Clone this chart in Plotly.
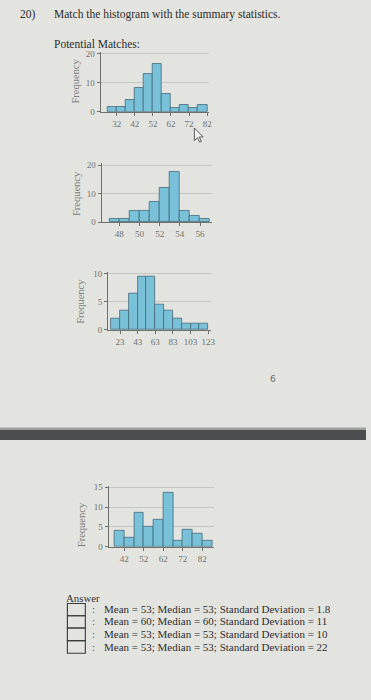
import plotly.graph_objects as go

W, H = 371, 700

# ---- histogram data (bin left edges, bin width, frequencies) ----
h1_edges = [27, 32, 37, 42, 47, 52, 57, 62, 67, 72, 77]
h1_width = 5
h1_counts = [1.5, 1.5, 4, 8, 13, 16.5, 6, 1.2, 2.5, 1.2, 2.5]
h1_xticks = [32, 42, 52, 62, 72, 82]
h1_yticks = [0, 10, 20]

h2_edges = [47, 48, 49, 50, 51, 52, 53, 54, 55, 56]
h2_width = 1
h2_counts = [1, 1, 4, 4, 7, 12, 17.5, 4, 2.2, 1.2]
h2_xticks = [48, 50, 52, 54, 56]
h2_yticks = [0, 10, 20]

h3_edges = [13, 23, 33, 43, 53, 63, 73, 83, 93, 103, 113]
h3_width = 10
h3_counts = [2, 3.5, 6.5, 9.5, 9.5, 4.5, 3.5, 2, 1.2, 1.2, 1.2]
h3_xticks = [23, 43, 63, 83, 103, 123]
h3_yticks = [0, 5, 10]

h4_edges = [37, 42, 47, 52, 57, 62, 67, 72, 77, 82]
h4_width = 5
h4_counts = [4, 2.3, 8.7, 5.1, 6.9, 13.7, 1.5, 4.4, 3.2, 1.4]
h4_xticks = [42, 52, 62, 72, 82]
h4_yticks = [0, 5, 10, 15]

answer_lines = [
    "Mean = 53; Median = 53; Standard Deviation = 1.8",
    "Mean = 60; Median = 60; Standard Deviation = 11",
    "Mean = 53; Median = 53; Standard Deviation = 10",
    "Mean = 53; Median = 53; Standard Deviation = 22",
]

# ---- styling ----
BG = "#e3e4e0"
BAR_FILL = "#79c1d9"
BAR_EDGE = "#44697a"
AXIS = "#6d706f"
GRID = "#c3c6c2"
TICK_TXT = "#6f716f"
SERIF = "Liberation Serif"


def fx(px):
    return px / W


def fy(py):
    return 1 - py / H


# panel boxes in pixels: left, right, top, bottom
panels = [
    dict(edges=h1_edges, w=h1_width, counts=h1_counts, xt=h1_xticks, yt=h1_yticks,
         xr=[23.1, 83.1], yr=[0, 20.5], box=(102, 212, 49.5, 110), ttl=(76.5, 79)),
    dict(edges=h2_edges, w=h2_width, counts=h2_counts, xt=h2_xticks, yt=h2_yticks,
         xr=[46.24, 57.2], yr=[0, 20.8], box=(103, 215, 161.7, 221.7), ttl=(78.3, 193)),
    dict(edges=h3_edges, w=h3_width, counts=h3_counts, xt=h3_xticks, yt=h3_yticks,
         xr=[9.3, 125.8], yr=[0, 10.4], box=(109.5, 213.5, 271.7, 330.7), ttl=(81.7, 301.7)),
    dict(edges=h4_edges, w=h4_width, counts=h4_counts, xt=h4_xticks, yt=h4_yticks,
         xr=[33.9, 87.9], yr=[0, 15.4], box=(110, 216.7, 488.3, 550), ttl=(83.3, 528)),
]

fig = go.Figure()
layout = {}
annotations = []
shapes = []

for i, p in enumerate(panels, start=1):
    sfx = "" if i == 1 else str(i)
    centers = [e + p["w"] / 2 for e in p["edges"]]
    fig.add_trace(go.Bar(
        x=centers, y=p["counts"], width=[p["w"]] * len(centers),
        marker=dict(color=BAR_FILL, line=dict(color=BAR_EDGE, width=0.8)),
        xaxis="x" + sfx, yaxis="y" + sfx, showlegend=False, hoverinfo="skip",
    ))
    l, r, t, b = p["box"]
    layout["xaxis" + sfx] = dict(
        domain=[fx(l), fx(r)], range=p["xr"], anchor="y" + sfx,
        tickvals=p["xt"], ticks="outside", ticklen=3, tickcolor=AXIS, tickwidth=1,
        showline=True, linecolor=AXIS, linewidth=1, showgrid=False, zeroline=False,
        tickfont=dict(family=SERIF, size=9, color=TICK_TXT), fixedrange=True,
    )
    layout["yaxis" + sfx] = dict(
        domain=[fy(b), fy(t)], range=p["yr"], anchor="x" + sfx,
        tickvals=p["yt"], ticks="outside", ticklen=3, tickcolor=AXIS, tickwidth=1,
        showline=True, linecolor=AXIS, linewidth=1, showgrid=True, gridcolor=GRID,
        gridwidth=1, zeroline=False,
        tickfont=dict(family=SERIF, size=9, color=TICK_TXT), fixedrange=True,
    )
    annotations.append(dict(
        x=fx(p["ttl"][0]), y=fy(p["ttl"][1]), xref="paper", yref="paper",
        text="Frequency", textangle=-90, showarrow=False,
        font=dict(family=SERIF, size=10.5, color="#7b7d7b"),
        xanchor="center", yanchor="middle",
    ))

# ---- page text ----
def text(x, y, s, size, color="#2b2b2b", family=SERIF, anchor="left"):
    annotations.append(dict(
        x=fx(x), y=fy(y), xref="paper", yref="paper", text=s, showarrow=False,
        font=dict(family=family, size=size, color=color),
        xanchor=anchor, yanchor="middle",
    ))

text(18, 11.5, "20)", 11.5)
text(52.5, 11.5, "Match the histogram with the summary statistics.", 11.5)
text(52.5, 41, "Potential Matches:", 11.5)
text(277, 380, "6", 9, color="#6b6d6d", family="DejaVu Sans", anchor="center")
text(64.5, 602, "Answer", 10.8, color="#333333")

row_y = [612.5, 625.3, 638.3, 651]
for y, line in zip(row_y, answer_lines):
    text(91.5, y, ":", 11, color="#555555")
    text(103, y, line, 11, color="#2e2e2e")

# answer boxes
for top, bot in zip([607.5, 619.8, 632.3, 645], [619.8, 632.3, 645, 657.7]):
    shapes.append(dict(type="rect", xref="paper", yref="paper",
                       x0=fx(68.3), x1=fx(86.5), y0=fy(bot), y1=fy(top),
                       line=dict(color="#3a3a3a", width=1.1), fillcolor="rgba(0,0,0,0)"))

# dark divider band across the page
shapes.append(dict(type="rect", xref="paper", yref="paper", x0=0, x1=1,
                   y0=fy(442), y1=fy(431.5), line=dict(width=0), fillcolor="#4b4d4f"))
shapes.append(dict(type="rect", xref="paper", yref="paper", x0=0, x1=1,
                   y0=fy(431.5), y1=fy(429.5), line=dict(width=0), fillcolor="#9fa19f"))

# mouse pointer near the first histogram
pts = [(0, 0), (0, 15), (3.6, 11.4), (6.3, 16.8), (8.4, 15.8), (5.8, 10.6), (10.6, 10.6)]
ox, oy, sc = 197.0, 126.5, 0.85
path = "M " + " L ".join(f"{fx(ox + a * sc):.5f},{fy(oy + b * sc):.5f}" for a, b in pts) + " Z"
shapes.append(dict(type="path", xref="paper", yref="paper", path=path,
                   line=dict(color="#5a5c5e", width=1), fillcolor="#f2f3f1"))

fig.update_layout(
    width=W, height=H, margin=dict(l=0, r=0, t=0, b=0),
    paper_bgcolor=BG, plot_bgcolor="rgba(0,0,0,0)",
    bargap=0, annotations=annotations, shapes=shapes, showlegend=False,
    **layout,
)

fig.write_html("out.html", config={"displayModeBar": False})
